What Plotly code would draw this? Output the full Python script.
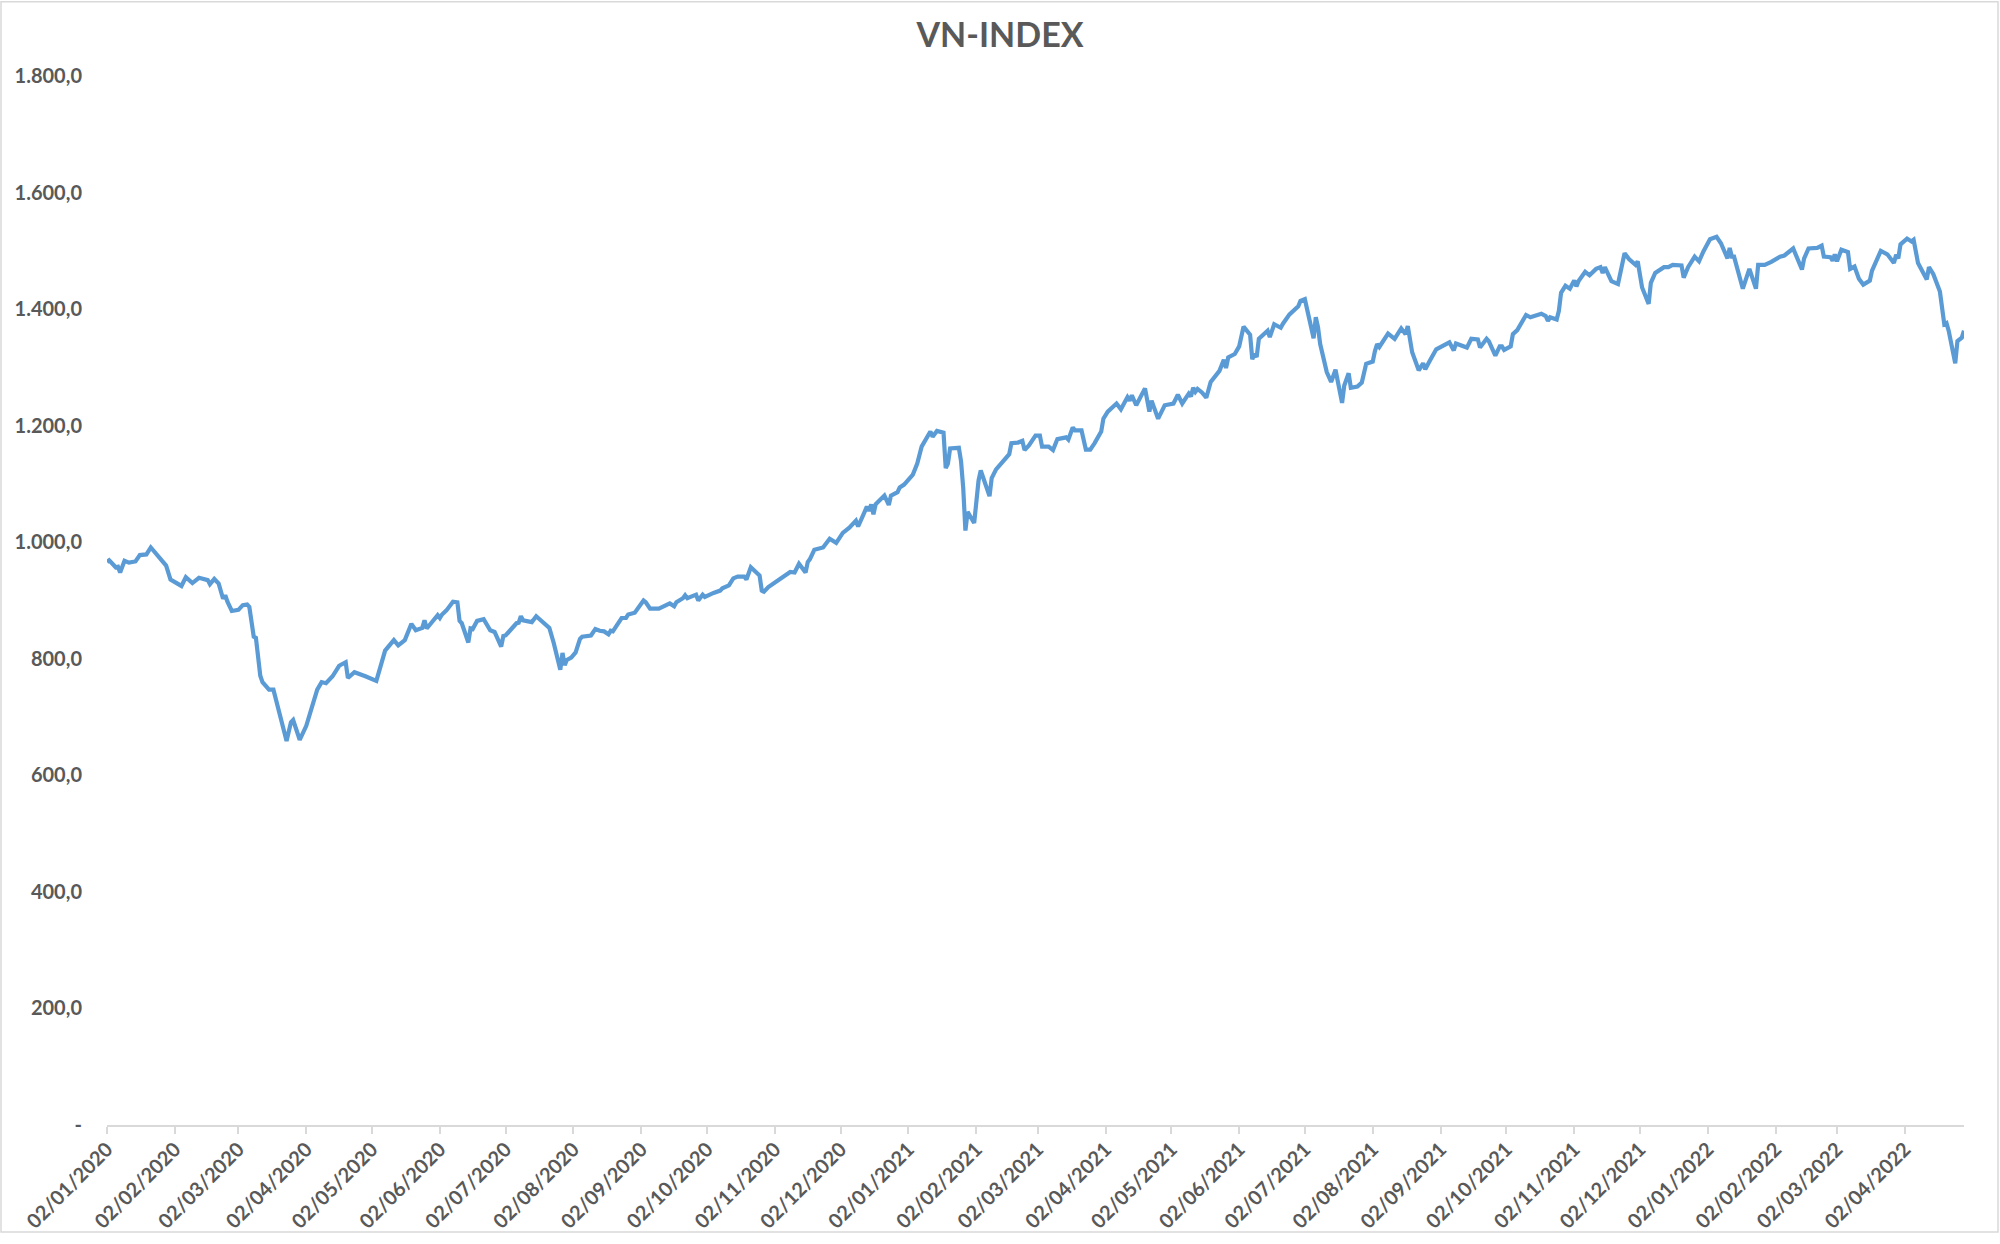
import pandas as pd
import plotly.graph_objects as go

# Dữ liệu VN-INDEX (ngày tính từ 02/01/2020, giá trị đóng cửa)
ngay_bat_dau = "2020-01-02"
so_ngay = [
    0, 1, 4, 5, 6, 8, 10, 13, 15, 18, 20, 27, 29, 32, 34, 36, 39, 42, 46, 47,
    49, 51, 53, 54, 55, 57, 60, 62, 64, 65, 67, 68, 70, 71, 74, 76, 82, 84, 85, 88,
    91, 96, 98, 100, 103, 106, 109, 110, 113, 118, 123, 127, 131, 133, 136, 139, 141, 144, 145, 146,
    151, 152, 153, 155, 158, 160, 161, 162, 165, 166, 167, 169, 172, 175, 177, 180, 181, 182, 187, 188,
    189, 190, 194, 196, 198, 200, 202, 204, 207, 208, 209, 210, 212, 214, 216, 217, 221, 223, 225, 227,
    229, 230, 231, 235, 237, 238, 241, 245, 246, 248, 252, 257, 259, 260, 263, 264, 265, 269, 270, 272,
    273, 277, 280, 281, 284, 286, 288, 291, 292, 294, 298, 299, 300, 302, 305, 307, 312, 314, 316, 319,
    320, 321, 323, 327, 330, 333, 336, 339, 342, 343, 345, 347, 348, 349, 350, 351, 355, 357, 358, 361,
    362, 364, 368, 370, 372, 376, 377, 379, 382, 383, 384, 385, 389, 390, 391, 392, 393, 396, 398, 399,
    403, 404, 406, 410, 412, 413, 416, 418, 419, 421, 424, 426, 427, 430, 432, 434, 438, 439, 441, 442,
    445, 447, 449, 451, 454, 455, 457, 461, 463, 466, 467, 468, 470, 474, 476, 477, 480, 483, 487, 489,
    491, 494, 495, 496, 497, 498, 500, 502, 504, 508, 510, 511, 512, 515, 517, 519, 522, 523, 524, 525,
    526, 530, 531, 533, 536, 537, 540, 544, 545, 547, 551, 552, 553, 554, 557, 559, 561, 564, 565, 567,
    568, 571, 573, 575, 578, 579, 580, 581, 583, 585, 588, 591, 593, 594, 596, 599, 601, 602, 604, 607,
    613, 615, 616, 621, 623, 626, 627, 630, 631, 634, 636, 637, 638, 641, 642, 644, 648, 650, 655, 657,
    658, 659, 662, 663, 664, 666, 668, 670, 671, 672, 675, 677, 680, 682, 683, 684, 687, 690, 693, 695,
    698, 699, 701, 704, 705, 707, 711, 713, 715, 719, 720, 722, 725, 727, 729, 732, 735, 737, 740, 741,
    742, 743, 747, 750, 753, 754, 757, 760, 764, 766, 770, 774, 775, 777, 781, 783, 784, 787, 788, 789,
    790, 792, 795, 796, 798, 800, 802, 805, 806, 810, 813, 816, 817, 818, 819, 822, 824, 825, 827, 829,
    831, 832, 834, 837, 839, 840, 841, 844, 845, 847, 848,
]
vn_index = [
    966, 969, 957, 958, 948, 968, 965, 967, 978, 979, 991, 960, 936, 929, 925, 940, 930, 939, 935, 928,
    937, 929, 903, 909, 898, 882, 884, 892, 893, 889, 838, 836, 771, 760, 747, 747, 659, 691, 695, 661,
    685, 747, 760, 758, 770, 788, 794, 767, 777, 770, 762, 814, 832, 823, 832, 860, 849, 853, 866, 852,
    875, 870, 876, 883, 898, 897, 865, 861, 828, 852, 851, 865, 868, 849, 846, 821, 839, 840, 861, 862,
    873, 866, 863, 873, 866, 858, 853, 827, 781, 810, 789, 798, 802, 811, 834, 838, 840, 851, 848, 847,
    842, 848, 847, 870, 870, 876, 879, 900, 897, 886, 886, 895, 890, 897, 904, 909, 904, 910, 900, 910,
    906, 913, 917, 921, 926, 938, 941, 941, 936, 957, 943, 917, 915, 923, 932, 936, 949, 948, 963, 948,
    966, 971, 987, 991, 1006, 999, 1016, 1025, 1037, 1027, 1044, 1061, 1054, 1065, 1048, 1065, 1080, 1064, 1080, 1086,
    1094, 1099, 1116, 1135, 1164, 1190, 1181, 1191, 1188, 1127, 1135, 1161, 1162, 1139, 1093, 1020, 1052, 1033, 1106, 1123,
    1079, 1110, 1125, 1141, 1151, 1170, 1171, 1174, 1158, 1166, 1183, 1183, 1164, 1164, 1158, 1177, 1180, 1176, 1197, 1192,
    1192, 1159, 1159, 1170, 1190, 1212, 1224, 1238, 1228, 1249, 1243, 1252, 1235, 1264, 1224, 1243, 1212, 1235, 1238, 1253,
    1238, 1255, 1250, 1265, 1258, 1263, 1257, 1248, 1275, 1294, 1313, 1299, 1317, 1323, 1336, 1370, 1356, 1314, 1323, 1318,
    1349, 1363, 1352, 1374, 1368, 1375, 1391, 1405, 1414, 1417, 1350, 1386, 1369, 1340, 1292, 1275, 1296, 1239, 1269, 1290,
    1265, 1267, 1274, 1306, 1310, 1328, 1340, 1335, 1346, 1358, 1349, 1367, 1357, 1371, 1326, 1295, 1307, 1297, 1311, 1331,
    1343, 1329, 1341, 1334, 1349, 1348, 1334, 1349, 1345, 1320, 1336, 1336, 1330, 1336, 1357, 1364, 1390, 1386, 1392, 1388,
    1380, 1386, 1382, 1397, 1428, 1440, 1435, 1449, 1439, 1448, 1464, 1458, 1469, 1472, 1462, 1472, 1448, 1443, 1496, 1486,
    1476, 1482, 1437, 1409, 1445, 1462, 1472, 1472, 1476, 1475, 1454, 1472, 1490, 1482, 1499, 1520, 1524, 1513, 1487, 1505,
    1490, 1490, 1435, 1469, 1435, 1476, 1476, 1481, 1490, 1492, 1504, 1468, 1487, 1504, 1505, 1509, 1490, 1489, 1483, 1494,
    1482, 1502, 1498, 1469, 1473, 1452, 1442, 1449, 1466, 1500, 1494, 1479, 1493, 1487, 1511, 1521, 1516, 1519, 1479, 1466,
    1451, 1472, 1460, 1430, 1374, 1376, 1363, 1307, 1345, 1351, 1363,
]

# Nhãn trục tung
y_tick_vals = [0, 200, 400, 600, 800, 1000, 1200, 1400, 1600, 1800]
y_tick_text = ["-", "200,0", "400,0", "600,0", "800,0", "1.000,0", "1.200,0", "1.400,0", "1.600,0", "1.800,0"]

ngay = pd.Timestamp(ngay_bat_dau) + pd.to_timedelta(so_ngay, unit="D")

W, H = 2000, 1244
ML, MR, MT, MB = 107, 36, 76, 109
pw, ph = W - ML - MR, H - MT - MB

mau_chu = "#595959"
font_chu = "Lato"

fig = go.Figure(go.Scatter(
    x=ngay, y=vn_index, mode="lines",
    line=dict(color="#5B9BD5", width=4.2),
    hoverinfo="x+y",
))

fig.update_layout(
    width=W, height=H,
    margin=dict(l=ML, r=MR, t=MT, b=MB),
    paper_bgcolor="white", plot_bgcolor="white",
    showlegend=False,
    title=dict(text="<b>VN-INDEX</b>", x=0.5, xref="container", xanchor="center",
               y=1 - 35 / H, yref="container", yanchor="middle",
               font=dict(family=font_chu, size=34, color=mau_chu)),
    xaxis=dict(
        type="date",
        range=[ngay.min(), ngay.max()],
        tick0=ngay_bat_dau, dtick="M1", tickformat="%d/%m/%Y",
        tickangle=-45,
        tickfont=dict(family=font_chu, size=20, color=mau_chu, weight="bold"),
        showgrid=False, zeroline=False,
        showline=True, linecolor="#d9d9d9", linewidth=1.5,
        ticks="outside", ticklen=7, tickcolor="#d9d9d9", tickwidth=1.5,
        ticklabelstandoff=-4,
    ),
    yaxis=dict(
        range=[0, 1800],
        tickvals=y_tick_vals, ticktext=y_tick_text,
        tickfont=dict(family=font_chu, size=20, color=mau_chu, weight="bold"),
        showgrid=False, zeroline=False, showline=False,
        ticks="", ticklabelstandoff=24,
    ),
    shapes=[dict(
        type="rect", xref="paper", yref="paper",
        x0=(1 - ML) / pw, x1=(W - 2 - ML) / pw,
        y0=-(MB - 1) / ph, y1=(H - MB - 1) / ph,
        line=dict(color="#d9d9d9", width=1.5), fillcolor="rgba(0,0,0,0)", layer="below",
    )],
)

# bỏ lề mặc định của trang để hình nằm đúng khung cửa sổ
fig.write_html(
    "out.html",
    config={"displayModeBar": False},
    post_script="document.body.style.margin='0';document.body.style.overflow='hidden';",
)
